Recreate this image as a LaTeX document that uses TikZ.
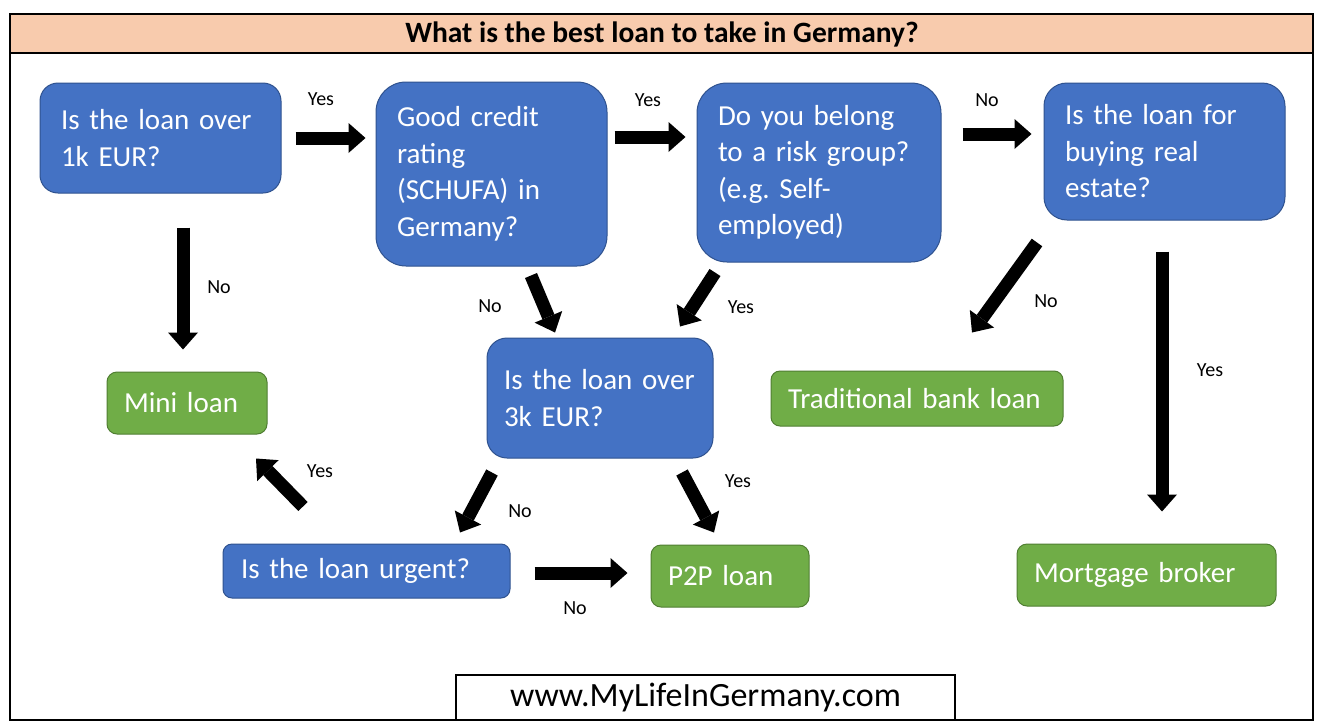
\documentclass[tikz,border=0pt]{standalone}
\usepackage{fontspec}
\setmainfont{Carlito}
\usetikzlibrary{arrows.meta,calc}
\definecolor{QBlue}{HTML}{4472C4}
\definecolor{QBlueEdge}{HTML}{2F528F}
\definecolor{AGreen}{HTML}{70AD47}
\definecolor{AGreenEdge}{HTML}{507E32}
\definecolor{Peach}{HTML}{F8CBAD}
\newcommand{\FlowLabel}[4]{%
  \node[font=\fontsize{20}{22}\selectfont] (#1) at (#2,#3) {#4};%
}

\begin{document}
\begin{tikzpicture}[x=1pt,y=-1pt,
  qbox/.style={rectangle,fill=QBlue,draw=QBlueEdge,line width=1pt,text=white,align=left,
    inner xsep=21pt,inner ysep=0pt,font=\fontsize{29}{36.5}\selectfont},
  abox/.style={rectangle,fill=AGreen,draw=AGreenEdge,line width=1pt,text=white,align=left,
    inner xsep=17pt,inner ysep=0pt,font=\fontsize{29}{33}\selectfont},
  flow/.style={line width=13pt,-{Triangle[width=30pt,length=17pt,line width=0pt]}}]
\useasboundingbox[fill=white] (0,0) rectangle (1320,726);
% frame and title band
\draw[line width=1.5pt] (10,14) rectangle (1313,720);
\filldraw[fill=Peach,line width=1.5pt] (10,14) rectangle (1313,53);
\node[font=\fontsize{29.5}{32}\selectfont\bfseries] (title) at (662,34) {What is the best loan to take in Germany?};
% questions
\node[qbox,text width=199pt,minimum height=110pt,rounded corners=18pt] (q1) at (160.5,138) {Is the loan over\\1k EUR?};
\node[qbox,text width=189pt,minimum height=184pt,rounded corners=30pt] (q2) at (491.5,174) {Good credit\\rating\\(SCHUFA) in\\Germany?};
\node[qbox,text width=202pt,minimum height=179pt,rounded corners=30pt] (q3) at (819,172.5) {Do you belong\\to a risk group?\\(e.g.\ Self-\\employed)};
\node[qbox,text width=199pt,minimum height=137pt,rounded corners=23pt] (q4) at (1164.5,151.5) {Is the loan for\\buying real\\estate?};
\node[qbox,text width=192pt,minimum height=120pt,rounded corners=20pt,inner xsep=17pt] (q5) at (600,398) {Is the loan over\\3k EUR?};
\node[qbox,text width=251pt,minimum height=54pt,rounded corners=9pt,inner xsep=18pt] (q6) at (366.5,571) {Is the loan urgent?};
% answers
\node[abox,text width=126pt,minimum height=62pt,rounded corners=10pt] (mini) at (187,403) {Mini loan};
\node[abox,text width=258pt,minimum height=55pt,rounded corners=9pt] (bank) at (917,398.5) {Traditional bank loan};
\node[abox,text width=124pt,minimum height=62pt,rounded corners=10pt] (p2p) at (730,576) {P2P loan};
\node[abox,text width=225pt,minimum height=62pt,rounded corners=10pt] (mortgage) at (1146.5,575) {Mortgage broker};
% arrows
\draw[flow] ([shift={(14,0)}]q1.east) -- ([shift={(-10,0)}]q1.east -| q2.west);
\draw[flow] ([shift={(7,-37)}]q2.east) -- ([shift={(-11,-37)}]q2.east -| q3.west);
\draw[flow] ([shift={(21,-38.5)}]q3.east) -- ([shift={(-12,-38.5)}]q3.east -| q4.west);
\draw[flow] ([shift={(22.5,34)}]q1.south) -- ([shift={(-4,-22)}]mini.north);
\draw[flow] ([shift={(39.5,9)}]q2.south) -- ([shift={(-45,-5)}]q5.north);
\draw[flow] ([shift={(-104,10)}]q3.south) -- ([shift={(80,-11)}]q5.north);
\draw[flow] ([shift={(-127.5,22)}]q4.south) -- ([shift={(55,-38)}]bank.north);
\draw[flow] ([shift={(-2.5,31)}]q4.south) -- ([shift={(15.5,-32)}]mortgage.north);
\draw[flow] ([shift={(-108,14)}]q5.south) -- ([shift={(93.5,-11)}]q6.north);
\draw[flow] ([shift={(82,14)}]q5.south) -- ([shift={(-16,-12)}]p2p.north);
\draw[flow] ([shift={(-63.5,-37)}]q6.north) -- ([shift={(69,24)}]mini.south);
\draw[flow] ([shift={(24,2)}]q6.east) -- ([shift={(-23,-3)}]p2p.west);
% arrow labels
\FlowLabel{yes1}{321}{99}{Yes}
\FlowLabel{yes2}{648}{100}{Yes}
\FlowLabel{no1}{987}{100}{No}
\FlowLabel{no2}{219}{287}{No}
\FlowLabel{no3}{490}{306}{No}
\FlowLabel{yes3}{741}{307}{Yes}
\FlowLabel{no4}{1046}{301}{No}
\FlowLabel{yes4}{1210}{370}{Yes}
\FlowLabel{no5}{520}{511}{No}
\FlowLabel{yes5}{738}{481}{Yes}
\FlowLabel{yes6}{320}{471}{Yes}
\FlowLabel{no6}{575}{608}{No}
% footer
\node[draw,line width=1.5pt,fill=white,minimum width=499pt,minimum height=45pt,
  font=\fontsize{34}{36}\selectfont] (site) at (705.5,697.5) {www.MyLifeInGermany.com};
\end{tikzpicture}
\end{document}
